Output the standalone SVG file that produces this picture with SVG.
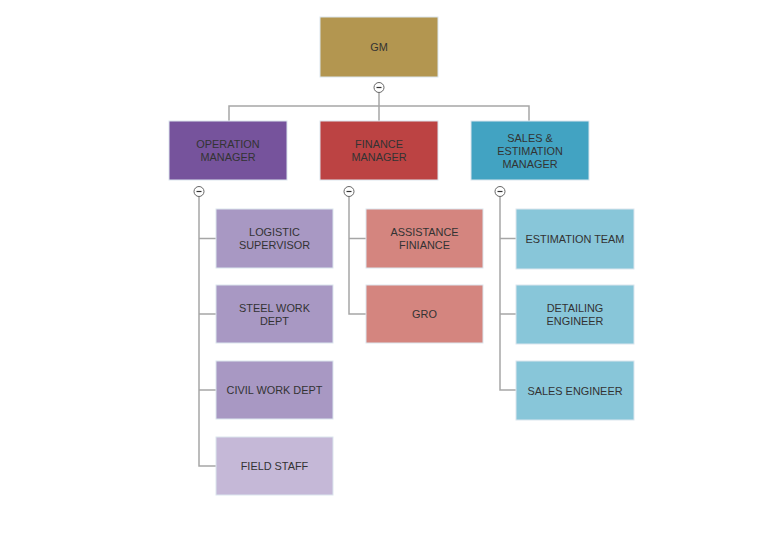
<svg xmlns="http://www.w3.org/2000/svg" width="768" height="543" viewBox="0 0 768 543">
<style>
.n{stroke:#dbe6ee;stroke-width:1}
.t{font-family:"Liberation Sans",Arial,sans-serif;font-size:10.9px;fill:#333;text-anchor:middle}
.c{fill:none;stroke:#a6a6a6;stroke-width:1.5}
.b{fill:#fff;stroke:#666;stroke-width:1}
.m{stroke:#333;stroke-width:1.2}
</style>
<rect width="768" height="543" fill="#fff"/>
<g id="connectors">
<path class="c" d="M379 92V121M229 121V106H529V121"/>
<path class="c" d="M199 197V466H216M199 238.5H216M199 314H216M199 390H216"/>
<path class="c" d="M349 197V314H366M349 238.5H366"/>
<path class="c" d="M500 197V390H516M500 238.5H516M500 314H516"/>
<circle class="b" cx="379" cy="87.5" r="5"/><line class="m" x1="376.5" y1="87.5" x2="381.5" y2="87.5"/>
<circle class="b" cx="199" cy="191.5" r="5"/><line class="m" x1="196.5" y1="191.5" x2="201.5" y2="191.5"/>
<circle class="b" cx="349" cy="191.5" r="5"/><line class="m" x1="346.5" y1="191.5" x2="351.5" y2="191.5"/>
<circle class="b" cx="500" cy="191.5" r="5"/><line class="m" x1="497.5" y1="191.5" x2="502.5" y2="191.5"/>
</g>
<g id="gm"><rect class="n" x="320" y="17" width="118" height="60" fill="#b39650"/><text class="t" x="379" y="51">GM</text></g>
<g id="operation-manager"><rect class="n" x="169" y="121" width="118" height="59" fill="#76539c"/><text class="t" x="228" y="148">OPERATION</text><text class="t" x="228" y="161">MANAGER</text></g>
<g id="finance-manager"><rect class="n" x="320" y="121" width="118" height="59" fill="#bc4343"/><text class="t" x="379" y="148">FINANCE</text><text class="t" x="379" y="161">MANAGER</text></g>
<g id="sales-manager"><rect class="n" x="471" y="121" width="118" height="59" fill="#42a3c2"/><text class="t" x="530" y="141.5">SALES &amp;</text><text class="t" x="530" y="154.5">ESTIMATION</text><text class="t" x="530" y="167.5">MANAGER</text></g>
<g id="logistic"><rect class="n" x="216" y="209" width="117" height="59" fill="#a898c3"/><text class="t" x="274.5" y="236">LOGISTIC</text><text class="t" x="274.5" y="249">SUPERVISOR</text></g>
<g id="steel"><rect class="n" x="216" y="285" width="117" height="58" fill="#a898c3"/><text class="t" x="274.5" y="311.5">STEEL WORK</text><text class="t" x="274.5" y="324.5">DEPT</text></g>
<g id="civil"><rect class="n" x="216" y="361" width="117" height="58" fill="#a898c3"/><text class="t" x="274.5" y="393.5">CIVIL WORK DEPT</text></g>
<g id="field"><rect class="n" x="216" y="437" width="117" height="58" fill="#c5b8d7"/><text class="t" x="274.5" y="469.5">FIELD STAFF</text></g>
<g id="assistance"><rect class="n" x="366" y="209" width="117" height="59" fill="#d4857f"/><text class="t" x="424.5" y="236">ASSISTANCE</text><text class="t" x="424.5" y="249">FINIANCE</text></g>
<g id="gro"><rect class="n" x="366" y="285" width="117" height="58" fill="#d4857f"/><text class="t" x="424.5" y="318">GRO</text></g>
<g id="estimation"><rect class="n" x="516" y="209" width="118" height="60" fill="#88c6d9"/><text class="t" x="575" y="242.5">ESTIMATION TEAM</text></g>
<g id="detailing"><rect class="n" x="516" y="285" width="118" height="59" fill="#88c6d9"/><text class="t" x="575" y="311.5">DETAILING</text><text class="t" x="575" y="324.5">ENGINEER</text></g>
<g id="sales-engineer"><rect class="n" x="516" y="361" width="118" height="59" fill="#88c6d9"/><text class="t" x="575" y="394.5">SALES ENGINEER</text></g>
</svg>
